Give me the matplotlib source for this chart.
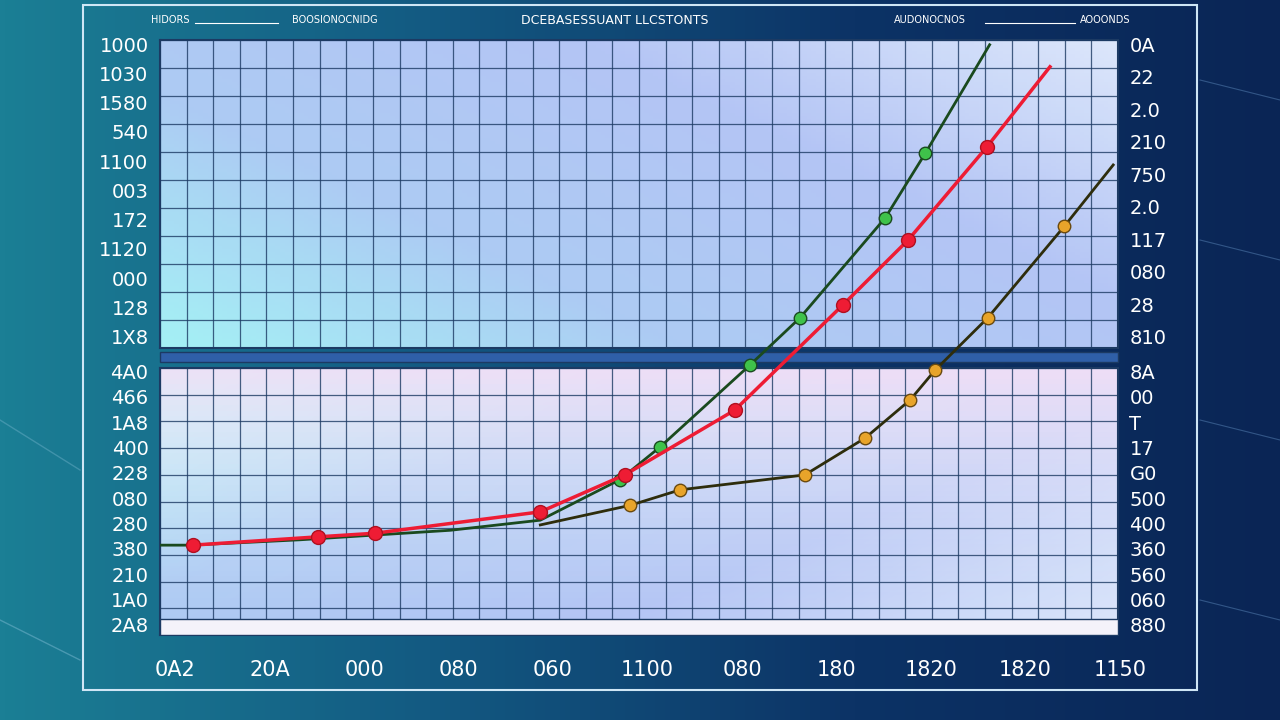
import numpy as np
import matplotlib.pyplot as plt
from matplotlib.patches import Rectangle
from matplotlib.colors import LinearSegmentedColormap

# values (overlay units 0-100 on both axes)
green_x = [0.0, 3.1, 14.6, 30.3, 39.7, 48.0, 52.2, 61.6, 66.8, 75.7, 79.9, 86.6]
green_y = [15.1, 15.1, 16.0, 17.6, 19.3, 26.1, 31.6, 45.4, 53.3, 70.1, 81.0, 99.2]
red_x = [3.4, 16.5, 22.4, 39.7, 48.5, 60.0, 71.3, 78.1, 86.3, 92.9]
red_y = [15.1, 16.5, 17.1, 20.7, 26.9, 37.8, 55.5, 66.4, 82.0, 95.5]
olive_x = [39.7, 49.1, 54.3, 67.3, 73.6, 78.3, 80.9, 86.4, 94.4, 99.5]
olive_y = [18.5, 21.8, 24.4, 26.9, 33.1, 39.5, 44.5, 53.3, 68.7, 79.0]

top_left = ["1000", "1030", "1580", "540", "1100", "003", "172", "1120", "000", "128", "1X8"]
top_right = ["0A", "22", "2.0", "210", "750", "2.0", "117", "080", "28", "810"]
bot_left = ["4A0", "466", "1A8", "400", "228", "080", "280", "380", "210", "1A0", "2A8"]
bot_right = ["8A", "00", "T", "17", "G0", "500", "400", "360", "560", "060", "880"]
x_labels = ["0A2", "20A", "000", "080", "060", "1100", "080", "180", "1820", "1820", "1150"]
header = ["HIDORS", "BOOSIONOCNIDG", "DCEBASESSUANT LLCSTONTS", "AUDONOCNOS", "AOOONDS"]

W, H = 1280, 720
fig = plt.figure(figsize=(12.8, 7.2), dpi=100)

# background
bg = fig.add_axes([0, 0, 1, 1])
gx = np.linspace(0, 1, 256)
grad = np.vstack([gx] * 2)
cm_bg = LinearSegmentedColormap.from_list("bg", ["#1b7f95", "#135a82", "#0c3366", "#0a2555"])
bg.imshow(grad, aspect="auto", cmap=cm_bg, extent=[0, W, 0, H])
for yy in [120, 300, 480, 640]:
    bg.plot([1200, 1280], [yy, yy - 20], color="#5a86b8", lw=0.8, alpha=0.5)
bg.plot([0, 80], [100, 60], color="#7ab8d0", lw=1, alpha=0.5)
bg.plot([0, 80], [300, 250], color="#7ab8d0", lw=1, alpha=0.4)
bg.add_patch(Rectangle((83, 30), 1114, 685, fc="none", ec="#cfe6f5", lw=1.5))
bg.set_xlim(0, W)
bg.set_ylim(0, H)
bg.axis("off")

cm_panel = LinearSegmentedColormap.from_list("p", ["#9ff0f5", "#a9c8f3", "#b0c2f5", "#dbe6fb"])


def panel(rect, ylabs_l, ylabs_r, bottom=False):
    ax = fig.add_axes(rect)
    xx, yy = np.meshgrid(np.linspace(0, 1, 200), np.linspace(0, 1, 100))
    z = 0.6 * xx + 0.4 * (1 - yy) if not bottom else 0.6 * xx + 0.4 * yy
    ax.imshow(z, extent=[0, 1, 0, 1], aspect="auto", cmap=cm_panel, alpha=0.95, zorder=0)
    if bottom:
        ax.imshow(np.linspace(0, 1, 50)[::-1].reshape(-1, 1) ** 1.5, extent=[0, 1, 0, 1], aspect="auto",
                  cmap=LinearSegmentedColormap.from_list("pk", [(1, 1, 1, 0), (0.96, 0.88, 0.97, 0.9)]), zorder=1)
        ax.add_patch(Rectangle((0, 0), 1, 0.06, fc="#f4f2fa", ec="#1c3a63", zorder=3))
    ax.set_xlim(0, 1)
    ax.set_ylim(0, 1)
    ax.set_xticks(np.linspace(0, 1, 37))
    ax.set_yticks(np.linspace(0, 1, 12 if not bottom else 11))
    ax.grid(True, color="#1c3a63", lw=0.9, alpha=0.8)
    ax.tick_params(length=0, labelbottom=False, labelleft=False)
    for s in ax.spines.values():
        s.set_color("#1c3a63")
        s.set_linewidth(1.5)
    ys = np.linspace(0.98, 0.03, len(ylabs_l))
    for y, t in zip(ys, ylabs_l):
        ax.text(-0.012, y, t, transform=ax.transAxes, ha="right", va="center", fontsize=14, color="white")
    ys = np.linspace(0.98, 0.03, len(ylabs_r))
    for y, t in zip(ys, ylabs_r):
        ax.text(1.012, y, t, transform=ax.transAxes, ha="left", va="center", fontsize=14, color="white")
    return ax


panel([160 / W, 1 - 348 / H, 958 / W, 308 / H], top_left, top_right)
bot = panel([160 / W, 1 - 635 / H, 958 / W, 267 / H], bot_left, bot_right, bottom=True)
bg.add_patch(Rectangle((160, 720 - 362), 958, 10, fc="#2f5fa8", ec="#1c3a63", zorder=3))

for i, t in enumerate(x_labels):
    fig.text((175 + i * 94.5) / W, 1 - 670 / H, t, ha="center", va="center", fontsize=15, color="white")
hx = [170, 335, 615, 930, 1105]
for x, t in zip(hx, header):
    fig.text(x / W, 1 - 20 / H, t, ha="center", va="center", fontsize=7 if len(t) < 15 else 9, color="white")
for x0, x1 in [(195, 278), (985, 1075)]:
    bg.plot([x0, x1], [697, 697], color="white", lw=0.8)

ov = fig.add_axes([160 / W, 1 - 635 / H, 958 / W, 595 / H])
ov.patch.set_alpha(0)
ov.set_xlim(0, 100)
ov.set_ylim(0, 100)
ov.axis("off")
ov.plot(olive_x, olive_y, color="#2e2d0c", lw=2, zorder=4)
ov.plot(olive_x[1:-1], olive_y[1:-1], "o", color="#e8a42a", mec="#6a4a10", ms=9, zorder=5)
ov.plot(green_x, green_y, color="#1a4a1e", lw=2, zorder=4)
ov.plot(green_x[5:-1], green_y[5:-1], "o", color="#3fc24a", mec="#1b4a20", ms=9, zorder=5)
ov.plot(red_x, red_y, color="#ee1c34", lw=2.5, zorder=6)
ov.plot(red_x[:-1], red_y[:-1], "o", color="#ee1c34", mec="#b01020", ms=10, zorder=7)

fig.savefig("out.png", dpi=100)
